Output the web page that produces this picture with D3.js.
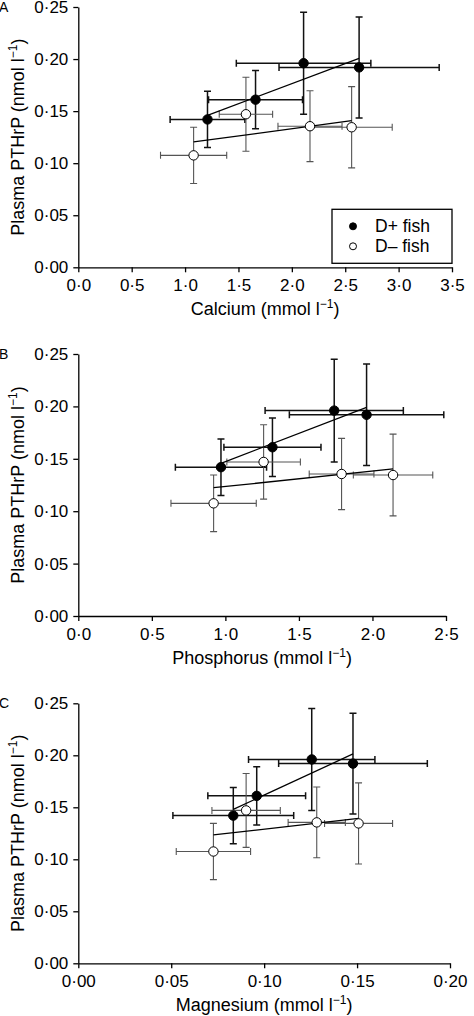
<!DOCTYPE html>
<html>
<head>
<meta charset="utf-8">
<script src="https://cdn.jsdelivr.net/npm/d3@7"></script>
<style>
  body { margin: 0; background: #fff; }
  svg { display: block; font-family: Arial, "Liberation Sans", Helvetica, sans-serif; }
</style>
</head>
<body>
<div id="container"></div>
<script>
// Plasma PTHrP (nmol l-1), same four means in every panel
const pthPlus = [0.142, 0.161, 0.196, 0.192];
const pthPlusErr = [0.027, 0.028, 0.049, 0.0485];
const pthMinus = [0.1075, 0.147, 0.1355, 0.1345];
const pthMinusErr = [0.027, 0.0355, 0.034, 0.039];

// Calcium (mmol l-1)
const caPlus = [1.21, 1.66, 2.11, 2.63];
const caPlusErr = [0.35, 0.44, 0.63, 0.75];
const caMinus = [1.08, 1.57, 2.17, 2.56];
const caMinusErr = [0.31, 0.25, 0.30, 0.38];

// Phosphorus (mmol l-1)
const pPlus = [0.97, 1.32, 1.74, 1.96];
const pPlusErr = [0.31, 0.33, 0.47, 0.525];
const pMinus = [0.92, 1.26, 1.79, 2.14];
const pMinusErr = [0.29, 0.25, 0.22, 0.27];

// Magnesium (mmol l-1)
const mgPlus = [0.0834, 0.096, 0.1256, 0.1478];
const mgPlusErr = [0.0325, 0.0263, 0.034, 0.040];
const mgMinus = [0.0727, 0.0903, 0.1283, 0.1508];
const mgMinusErr = [0.020, 0.0184, 0.0154, 0.0183];

// regression lines, [x, y] at both ends
const caFitPlus = [[1.21, 0.146], [2.63, 0.2006]];
const caFitMinus = [[1.08, 0.1204], [2.56, 0.1408]];
const pFitPlus = [[0.97, 0.1457], [1.96, 0.1991]];
const pFitMinus = [[0.92, 0.1224], [2.14, 0.1403]];
const mgFitPlus = [[0.0834, 0.148], [0.1478, 0.2013]];
const mgFitMinus = [[0.0727, 0.1234], [0.1508, 0.1394]];

// ticks and labels
const yTicks = [0, 0.05, 0.10, 0.15, 0.20, 0.25];
const caTicks = [0, 0.5, 1.0, 1.5, 2.0, 2.5, 3.0, 3.5];
const pTicks = [0, 0.5, 1.0, 1.5, 2.0, 2.5];
const mgTicks = [0, 0.05, 0.10, 0.15, 0.20];
const groupNames = ["D+ fish", "D\u2013 fish"];
const panelLetters = ["A", "B", "C"];
const xTitles = ["Calcium", "Phosphorus", "Magnesium"];
const yTitle = "Plasma PTHrP";

const width = 474;
const height = 1016;
const left = 78.3;

const svg = d3.select("#container").append("svg")
    .attr("width", width)
    .attr("height", height);

//---------------------------PANELS------------------------------//

const panels = [
    { top: 7, h: 260.3, w: 373.7, dom: [0, 3.5], ticks: caTicks, fmt: ".1f",
      xp: caPlus, xpe: caPlusErr, xm: caMinus, xme: caMinusErr,
      fitP: caFitPlus, fitM: caFitMinus, legend: true },
    { top: 354, h: 262, w: 367.7, dom: [0, 2.5], ticks: pTicks, fmt: ".1f",
      xp: pPlus, xpe: pPlusErr, xm: pMinus, xme: pMinusErr,
      fitP: pFitPlus, fitM: pFitMinus, legend: false },
    { top: 703.3, h: 260, w: 371.7, dom: [0, 0.20], ticks: mgTicks, fmt: ".2f",
      xp: mgPlus, xpe: mgPlusErr, xm: mgMinus, xme: mgMinusErr,
      fitP: mgFitPlus, fitM: mgFitMinus, legend: false }
];

function dotFormat(f) {
    const base = d3.format(f);
    return function (v) { return base(v).replace(".", "\u00B7"); };
}

function unitTitle(sel, name) {
    sel.append("tspan").text(name);
    sel.append("tspan").attr("font-size", 12).attr("dy", -7).text("\u22121");
    sel.append("tspan").attr("dy", 7).text(")");
}

panels.forEach(function (p, i) {
    const g = svg.append("g").attr("transform", "translate(" + left + "," + p.top + ")");

    const xScale = d3.scaleLinear().domain(p.dom).range([0, p.w]);
    const yScale = d3.scaleLinear().domain([0, 0.25]).range([p.h, 0]);

    // axes
    const yAxis = g.append("g")
        .call(d3.axisLeft(yScale).tickValues(yTicks).tickFormat(dotFormat(".2f"))
            .tickSize(5).tickPadding(5).tickSizeOuter(0));
    const xAxis = g.append("g")
        .attr("transform", "translate(0," + p.h + ")")
        .call(d3.axisBottom(xScale).tickValues(p.ticks).tickFormat(dotFormat(p.fmt))
            .tickSize(5).tickPadding(7).tickSizeOuter(0));
    [yAxis, xAxis].forEach(function (a) {
        a.selectAll("path, line").attr("stroke", "#000").attr("stroke-width", 1.3);
        a.selectAll("text").attr("font-size", 17).attr("fill", "#000")
            .attr("font-family", "Arial, 'Liberation Sans', sans-serif");
    });

    // titles
    g.append("text")
        .attr("x", p.w / 2)
        .attr("y", p.h + 48)
        .attr("text-anchor", "middle")
        .attr("font-size", 18)
        .call(unitTitle, xTitles[i] + " (mmol l");

    g.append("text")
        .attr("transform", "translate(" + (24 - left) + "," + (p.h / 2) + ") rotate(-90)")
        .attr("text-anchor", "middle")
        .attr("font-size", 18)
        .call(unitTitle, yTitle + " (nmol l");

    svg.append("text")
        .attr("x", -1)
        .attr("y", p.top + 5)
        .attr("font-size", 14)
        .text(panelLetters[i]);

    // series
    const series = [
        { xs: p.xp, xe: p.xpe, ys: pthPlus, ye: pthPlusErr, fit: p.fitP,
          fill: "#000", bar: "#111", bw: 1.5 },
        { xs: p.xm, xe: p.xme, ys: pthMinus, ye: pthMinusErr, fit: p.fitM,
          fill: "#fff", bar: "#555", bw: 1.1 }
    ];

    const cap = 3.5;
    const line = d3.line()
        .x(function (d) { return xScale(d[0]); })
        .y(function (d) { return yScale(d[1]); });

    series.forEach(function (s) {
        const pts = s.xs.map(function (v, k) {
            return { x: v, xe: s.xe[k], y: s.ys[k], ye: s.ye[k] };
        });
        const eb = g.append("g").attr("stroke", s.bar).attr("stroke-width", s.bw).attr("fill", "none");
        pts.forEach(function (d) {
            const cx = xScale(d.x), cy = yScale(d.y);
            const y1 = yScale(d.y + d.ye), y2 = yScale(d.y - d.ye);
            const x1 = xScale(d.x - d.xe), x2 = xScale(d.x + d.xe);
            eb.append("path").attr("d",
                "M" + cx + "," + y1 + "V" + y2 +
                "M" + (cx - cap) + "," + y1 + "H" + (cx + cap) +
                "M" + (cx - cap) + "," + y2 + "H" + (cx + cap) +
                "M" + x1 + "," + cy + "H" + x2 +
                "M" + x1 + "," + (cy - cap) + "V" + (cy + cap) +
                "M" + x2 + "," + (cy - cap) + "V" + (cy + cap));
        });
        s.pts = pts;
    });

    series.forEach(function (s) {
        g.append("path")
            .attr("d", line(s.fit))
            .attr("stroke", "#000")
            .attr("stroke-width", 1.3)
            .attr("fill", "none");
    });

    series.forEach(function (s) {
        g.selectAll(null)
            .data(s.pts)
            .enter()
            .append("circle")
            .attr("cx", function (d) { return xScale(d.x); })
            .attr("cy", function (d) { return yScale(d.y); })
            .attr("r", 4.7)
            .attr("fill", s.fill)
            .attr("stroke", "#000")
            .attr("stroke-width", 1);
    });

    // legend
    if (p.legend) {
        const lg = g.append("g").attr("transform", "translate(" + (p.w - 120) + "," + (p.h - 58) + ")");
        lg.append("rect")
            .attr("width", 120).attr("height", 54)
            .attr("fill", "#fff").attr("stroke", "#000").attr("stroke-width", 1.3);
        groupNames.forEach(function (name, k) {
            lg.append("circle")
                .attr("cx", 21).attr("cy", 17 + k * 20)
                .attr("r", 3.5)
                .attr("fill", k === 0 ? "#000" : "#fff")
                .attr("stroke", "#000").attr("stroke-width", 1);
            lg.append("text")
                .attr("x", 43).attr("y", 23 + k * 20)
                .attr("font-size", 17.5)
                .text(name);
        });
    }
});
</script>
</body>
</html>
